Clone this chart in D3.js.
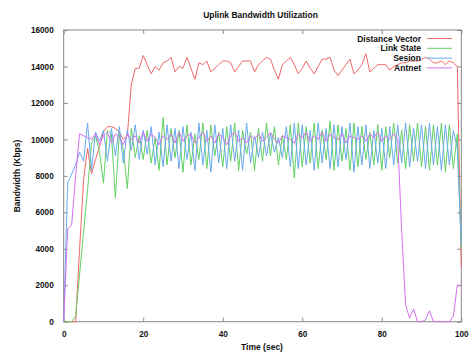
<!DOCTYPE html>
<html><head><meta charset="utf-8">
<script src="https://cdn.jsdelivr.net/npm/d3@7/dist/d3.min.js"></script>
<style>body{margin:0;background:#fff}svg{display:block}text{font-family:"Liberation Sans",Arial,sans-serif;font-weight:bold;fill:#111}</style>
</head><body>
<script>
const times = d3.range(0, 101);
const distanceVector = [0,0,0,0,4000,7800,9500,8100,8900,9600,10400,10700,10700,10600,10400,10000,10200,13000,13900,13900,
14600,14100,13600,14000,13800,14200,14300,14500,13700,14000,13900,14500,13900,13300,14200,14100,14300,13700,13900,14100,
14300,14300,14200,13700,14000,14300,14300,14300,13700,14100,14300,14500,14400,13800,13300,14100,14300,14500,14100,13600,
13900,14300,13900,13600,14000,14400,14400,14500,13800,13500,13800,14100,14400,13600,13800,14100,14700,13700,13900,14100,
14100,14100,13800,14000,14100,14200,14200,14300,14300,14300,14400,14500,14400,14200,14200,14300,14100,14300,14200,14000,3000];
const linkState = [0,0,0,300,2600,4900,7200,9800,10200,9300,7600,10500,10300,6800,10300,9400,7300,10600,9000,10200,
8900,10500,8700,10100,8300,11200,8600,10600,9000,10500,8200,10800,8600,10300,8900,10900,8400,10800,9100,10400,
8500,10700,8800,10900,8300,10500,9200,10400,8300,10600,8800,10900,9100,10700,8600,10200,8900,10800,7900,10900,
8500,10700,8700,10900,8400,10500,8900,11000,8300,10800,8800,10600,8300,10900,8500,10700,8900,10400,8600,10800,
8300,10700,9000,10900,8700,10500,8400,10800,8800,10900,8500,10700,8300,10800,8600,10900,8200,10800,8400,10300,4000];
const sesion = [0,7600,8100,8600,9300,8800,10900,8300,10400,9900,10500,8800,10600,9100,10700,8700,10500,9400,10800,8900,
10500,9200,10700,8600,10400,8500,10800,8800,10600,8400,10700,8900,10400,8300,10900,8600,10500,8200,10800,8700,
10600,8400,10800,8800,10500,8300,10900,8700,10200,9000,10400,9100,10300,9300,10100,9000,10700,8500,10900,8400,
10800,8600,10500,8300,10900,8700,10600,8400,10800,8500,10700,8900,10900,8200,10700,8600,10800,8400,10500,8700,
10600,8400,10700,8600,10800,8700,10900,8500,10600,8800,10800,8400,10900,8600,10700,8300,10800,8600,10500,9500,4200];
const antnet = [0,5100,5300,8000,10300,10200,10100,10000,10300,9700,10200,10400,9800,10300,10100,9700,10300,10000,10200,9800,
10400,9900,10300,10100,9700,10200,10000,10300,9800,10400,9900,10200,10300,9800,10100,10400,9900,10200,9800,10300,
10100,9700,10200,10400,9900,10100,9800,10200,10000,10300,9900,10100,10400,10000,9800,10200,10100,10000,9800,10300,
10100,10400,9900,10200,10000,10400,9900,10300,10100,10000,10300,9800,10200,10100,10000,10200,9900,10300,10100,10400,
9900,10200,10000,10300,10000,5000,900,200,700,0,0,100,600,0,0,0,0,0,300,2000,2000];
const seriesNames = ["Distance Vector","Link State","Sesion","Antnet"];
const seriesColors = ["#f06868","#62d062","#68aaf0","#d46ef0"];
const xTicks = [0,20,40,60,80,100];
const yTicks = [0,2000,4000,6000,8000,10000,12000,14000,16000];

const W = 474, H = 355;
const m = {l:63.7, r:474-461.3, t:30, b:355-321.7};
const svg = d3.select("body").append("svg").attr("width",W).attr("height",H);
const x = d3.scaleLinear().domain([0,100]).range([m.l, W-m.r]);
const y = d3.scaleLinear().domain([0,16000]).range([H-m.b, m.t]);
const gray = "#888";

// frame
svg.append("rect").attr("x",x(0)).attr("y",y(16000)).attr("width",x(100)-x(0)).attr("height",y(0)-y(16000))
  .attr("fill","none").attr("stroke",gray).attr("stroke-width",1);

// axes (inward ticks, mirrored)
const fmt = d3.format("d");
const axB = svg.append("g").attr("transform",`translate(0,${y(0)})`).call(d3.axisBottom(x).tickValues(xTicks).tickSize(-4).tickPadding(9).tickFormat(fmt));
const axT = svg.append("g").attr("transform",`translate(0,${y(16000)})`).call(d3.axisTop(x).tickValues(xTicks).tickSize(-4).tickFormat(""));
const axL = svg.append("g").attr("transform",`translate(${x(0)},0)`).call(d3.axisLeft(y).tickValues(yTicks).tickSize(-4).tickPadding(10).tickFormat(fmt));
const axR = svg.append("g").attr("transform",`translate(${x(100)},0)`).call(d3.axisRight(y).tickValues(yTicks).tickSize(-4).tickFormat(""));
[axB,axT,axL,axR].forEach(g=>{g.select(".domain").remove();g.selectAll(".tick line").attr("stroke",gray);
  g.selectAll("text").attr("font-size",8.2).attr("font-family","Liberation Sans, Arial, sans-serif").attr("font-weight","bold").attr("fill","#111");});

// lines
const data = [distanceVector, linkState, sesion, antnet];
const line = d3.line().x((d,i)=>x(times[i])).y(d=>y(d));
data.forEach((s,k)=>{
  svg.append("path").datum(s).attr("d",line).attr("fill","none").attr("stroke",seriesColors[k]).attr("stroke-width",1);
});

// title & labels
svg.append("text").attr("x",260.5).attr("y",17.5).attr("text-anchor","middle").attr("font-size",8.5).text("Uplink Bandwidth Utilization");
svg.append("text").attr("x",262).attr("y",350).attr("text-anchor","middle").attr("font-size",8.5).text("Time (sec)");
svg.append("text").attr("transform","translate(20,176) rotate(-90)").attr("text-anchor","middle").attr("font-size",8.5).text("Bandwidth (Kbps)");

// legend
const lg = svg.append("g");
seriesNames.forEach((n,k)=>{
  const yy = 38.5 + k*9.8;
  lg.append("text").attr("x",421).attr("y",yy+3).attr("text-anchor","end").attr("font-size",8.5).text(n);
  lg.append("line").attr("x1",427).attr("x2",452).attr("y1",yy).attr("y2",yy).attr("stroke",seriesColors[k]).attr("stroke-width",1);
});
</script>
</body></html>
